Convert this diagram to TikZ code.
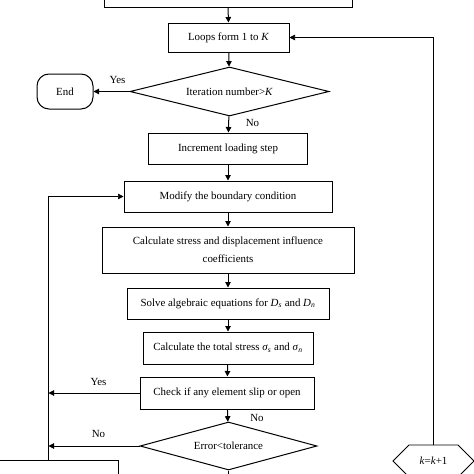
\documentclass[tikz,border=0pt]{standalone}
\usepackage{fontspec}
\setmainfont{Liberation Serif}
\usetikzlibrary{arrows.meta,shapes.geometric,shapes.symbols}
\tikzset{
  procbox/.style={draw,line width=1pt,rectangle,inner sep=2pt},
  decision/.style={draw,line width=1pt,diamond,aspect=4,inner sep=0pt},
  terminal/.style={draw,line width=1pt,rectangle,rounded corners=12pt},
  loopsign/.style={draw,line width=0.8pt,signal,signal to=east and west,
    minimum width=81pt,minimum height=32pt,inner sep=0pt},
  flow/.style={-{Triangle[length=5.5pt,width=5.5pt]},line width=1pt},
  lbl/.style={inner sep=0pt}
}
\begin{document}
\begin{tikzpicture}[x=1pt,y=-1pt,font=\fontsize{10.9}{13}\selectfont]
  \useasboundingbox (0,0) rectangle (474,474);
  \clip (0,0) rectangle (474,474);
  %Main column
  \node[procbox,minimum width=248pt,minimum height=40pt] (init) at (228,-13) {};
  \node[procbox,minimum width=121pt,minimum height=29pt] (loops) at (228.5,37.5) {Loops form 1 to \textit{K}};
  \node[decision,minimum width=199pt,minimum height=49pt] (iter) at (229.5,91.5) {Iteration number>\textit{K}};
  \node[terminal,minimum width=56pt,minimum height=35pt] (end) at (65,91.5) {End};
  \node[procbox,minimum width=159pt,minimum height=31pt] (incr) at (228,148.5) {Increment loading step};
  \node[procbox,minimum width=208pt,minimum height=31pt] (modify) at (228,196.5) {Modify the boundary condition};
  \node[procbox,minimum width=252pt,minimum height=46pt,align=center] (coeff) at (228,250)
    {Calculate stress and displacement influence\\[5pt]coefficients};
  \node[procbox,minimum width=202pt,minimum height=31pt] (solve) at (228,303.5)
    {Solve algebraic equations for \textit{D}\textsubscript{\textit{s}} and \textit{D}\textsubscript{\textit{n}}};
  \node[procbox,minimum width=170pt,minimum height=32pt] (total) at (228,348)
    {Calculate the total stress \textit{σ}\textsubscript{\textit{s}} and \textit{σ}\textsubscript{\textit{n}}};
  \node[procbox,minimum width=174pt,minimum height=32pt] (check) at (227,393) {Check if any element slip or open};
  \node[decision,minimum width=177pt,minimum height=48pt] (err) at (228.5,446) {Error<tolerance};
  %Side boxes
  \node[procbox,minimum width=140pt,minimum height=40pt,anchor=north east] (update) at (119,460) {};
  \node[loopsign] (incK) at (433.5,461) {\textit{k}=\textit{k}+1};

  %Connectors
  \draw[flow] (init.south) -- (loops.north);
  \draw[flow] (loops) -- (iter);
  \draw[flow] (iter.west) -- (end.east);
  \draw[flow] (iter) -- (incr);
  \draw[flow] (incr) -- (modify);
  \draw[flow] (modify) -- (coeff);
  \draw[flow] (coeff) -- (solve);
  \draw[flow] (solve) -- (total);
  \draw[flow] (total) -- (check);
  \draw[flow] (check) -- (err);
  \draw[line width=1pt] (err.south) -- ++(0,12);
  %Left loop
  \draw[flow,line width=0.6pt] (update.north) |- (modify.west);
  \draw[flow] (check.west) -- (check.west -| update.north);
  \draw[flow] (err.west) -- (err.west -| update.north);
  %Right loop
  \draw[flow,line width=0.6pt] (incK.north) |- (loops.east);

  %Labels
  \node[lbl] at ([shift={(-12,-12)}]iter.west) {Yes};
  \node[lbl] at ([shift={(23,6)}]iter.south) {No};
  \node[lbl] at ([shift={(-41,-11)}]check.west) {Yes};
  \node[lbl] at ([shift={(30,8)}]check.south) {No};
  \node[lbl] at ([shift={(-41,-12)}]err.west) {No};
  \node[lbl] at ([shift={(25,8)}]err.south) {Yes};
\end{tikzpicture}
\end{document}
